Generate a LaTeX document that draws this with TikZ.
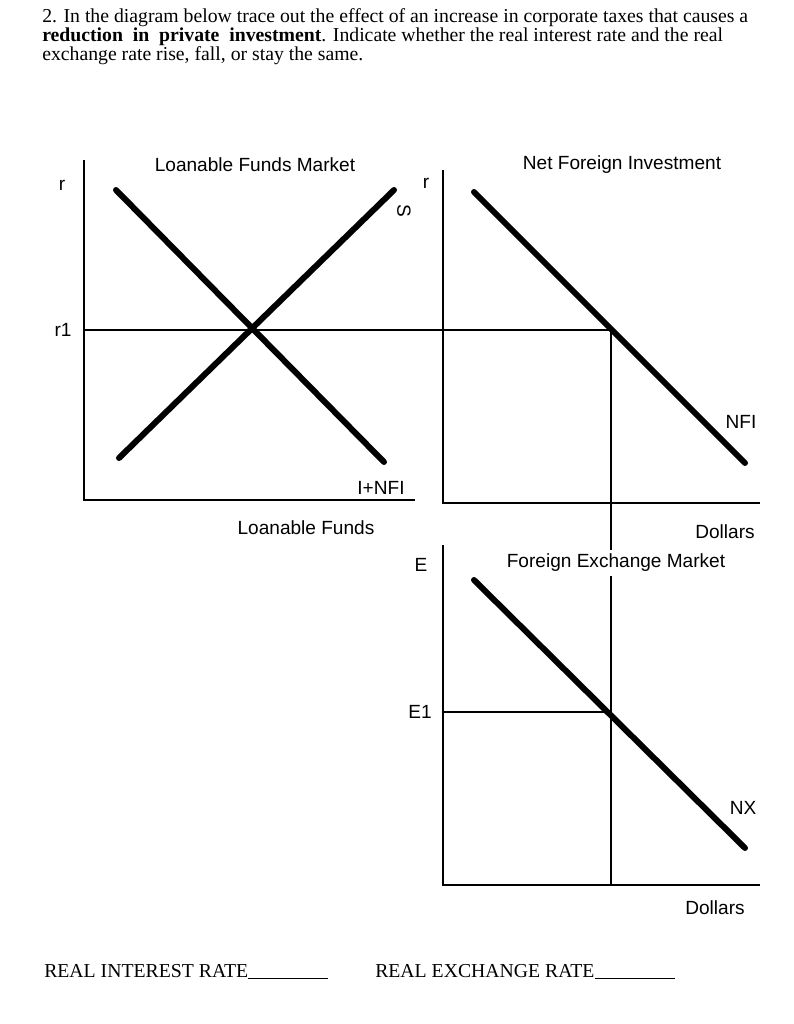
\documentclass[tikz,border=0pt]{standalone}
\usepackage{fontspec}
\setmainfont{Liberation Serif}
\setsansfont{Liberation Sans}
\begin{document}
\begin{tikzpicture}[x=0.75pt,y=-0.75pt,
  ax/.style={line width=1pt},
  curve/.style={line width=4.5pt,line cap=round},
  lbl/.style={font=\sffamily\fontsize{14.3}{16}\selectfont,inner sep=1pt},
  ttl/.style={font=\fontsize{14.8}{16}\selectfont,anchor=west,inner sep=0pt}]
\useasboundingbox (0,0) rectangle (793,1024);
% title
\node[ttl] (t1) at (42,18) {2. In the diagram below trace out the effect of an increase in corporate taxes that causes a};
\node[ttl] (t2) at (42,37) {\textbf{reduction\ \ in\ \ private\ \ investment}. Indicate whether the real interest rate and the real};
\node[ttl] (t3) at (42,56) {exchange rate rise, fall, or stay the same.};
% coordinates
\coordinate (la) at (84,160); \coordinate (lo) at (84,500); \coordinate (lx) at (415,500);
\coordinate (ra) at (443,170); \coordinate (ro) at (443,503); \coordinate (rx) at (760,503);
\coordinate (ba) at (443,545); \coordinate (bo) at (443,885); \coordinate (bx) at (760,885);
\coordinate (r1l) at (84,330); \coordinate (r1r) at (611,330);
\coordinate (vb) at (611,885);
\coordinate (e1l) at (443,712); \coordinate (e1r) at (611,712);
% axes
\draw[ax] (la) -- (lo) -- (lx);
\draw[ax] (ra) -- (ro) -- (rx);
\draw[ax] (ba) -- (bo) -- (bx);
\draw[ax] (r1l) -- (r1r) -- (vb);
\draw[ax] (e1l) -- (e1r);
% curves
\coordinate (s1) at (119,458); \coordinate (s2) at (394,190);
\coordinate (d1) at (116,190); \coordinate (d2) at (384,462);
\draw[curve] (s1) -- (s2);
\draw[curve] (d1) -- (d2);
\coordinate (n1) at (474,192); \coordinate (n2) at (745,463);
\draw[curve] (n1) -- (n2);
\coordinate (x1) at (474,580); \coordinate (x2) at (745,848);
\draw[curve] (x1) -- (x2);
% labels
\node[lbl] (lfm) at (255,165) {Loanable Funds Market};
\node[lbl] (rl) at (62,185) {r};
\node[lbl] (r1) at (63,330) {r1};
\node[lbl,rotate=-90] (S) at (404,211) {S};
\node[lbl] (inf) at (381,488) {I+NFI};
\node[lbl] (lf) at (306,528) {Loanable Funds};
\node[lbl] (rr) at (426,183) {r};
\node[lbl] (nfi) at (622,165) {Net Foreign Investment};
\node[lbl] (nfil) at (741,422) {NFI};
\node[lbl] (d1l) at (725,532) {Dollars};
\node[lbl] (E) at (421,565) {E};
\node[lbl,fill=white,inner sep=3pt] (fem) at (616,563) {Foreign Exchange Market};
\node[lbl] (E1) at (420,712) {E1};
\node[lbl] (nx) at (743,808) {NX};
\node[lbl] (d2l) at (715,908) {Dollars};
\node[ttl] (q1) at (44,972) {REAL INTEREST RATE\rule[-1pt]{60pt}{0.6pt}};
\node[ttl] (q2) at (375,972) {REAL EXCHANGE RATE\rule[-1pt]{60pt}{0.6pt}};
\end{tikzpicture}
\end{document}
